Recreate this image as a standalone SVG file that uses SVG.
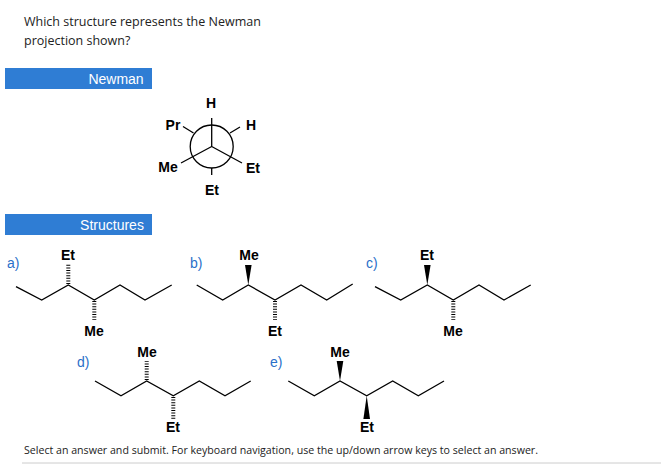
<svg xmlns="http://www.w3.org/2000/svg" width="661" height="469" viewBox="0 0 661 469">
<defs>
<style>
.q{font-family:"Open Sans","Liberation Sans",sans-serif;font-size:12.5px;fill:#222}
.bar{fill:#2f7dd4}
.bt{font-family:"Liberation Sans",Arial,sans-serif;font-size:14px;fill:#fff;text-anchor:middle}
.lb{font-family:"Liberation Sans",Arial,sans-serif;font-size:14px;font-weight:bold;fill:#000;text-anchor:middle}
.op{font-family:"Liberation Sans",Arial,sans-serif;font-size:14px;fill:#2a6fc9}
.b{fill:none;stroke:#000;stroke-width:1.3}
.h{fill:none;stroke:#000;stroke-width:4;stroke-dasharray:1 1.6}
.w{fill:#000}
</style>
</defs>
<rect width="661" height="469" fill="#fff"/>
<text class="q" x="24" y="26">Which structure represents the Newman</text>
<text class="q" x="24" y="45">projection shown?</text>
<g id="newman-bar"><rect class="bar" x="5" y="68" width="147" height="21"/><text class="bt" x="116" y="84">Newman</text></g>
<g id="structures-bar"><rect class="bar" x="5" y="214" width="147" height="21"/><text class="bt" x="112" y="230">Structures</text></g>
<g id="newman">
<circle cx="211.7" cy="146.5" r="21.5" class="b"/>
<path class="b" d="M211.7 146.5V118 M211.7 146.5L181 163 M211.7 146.5L242 163 M193.5 133L183 126.5 M230 133L240 127 M211.7 168V175"/>
<text class="lb" x="211" y="108">H</text>
<text class="lb" x="173" y="130">Pr</text>
<text class="lb" x="251" y="130">H</text>
<text class="lb" x="168" y="172">Me</text>
<text class="lb" x="253" y="173">Et</text>
<text class="lb" x="212" y="195">Et</text>
</g>
<g id="option-a">
<text class="op" x="7" y="268">a)</text>
<polyline class="b" points="16,286.7 41.7,300 68.3,285 94.3,300 120,285 145,300 171.7,285"/>
<path class="h" d="M68.3 284V264 M94.3 301V320"/>
<text class="lb" x="68" y="260">Et</text>
<text class="lb" x="94" y="336">Me</text>
</g>
<g id="option-b">
<text class="op" x="190" y="268">b)</text>
<polyline class="b" points="196.7,285 222.7,300 248.3,285 275,300 301,285 326.7,300 352.7,284"/>
<polygon class="w" points="248.3,285 245,265 251.6,265"/>
<path class="h" d="M275 301V320"/>
<text class="lb" x="249" y="260">Me</text>
<text class="lb" x="275" y="336">Et</text>
</g>
<g id="option-c">
<text class="op" x="366" y="268">c)</text>
<polyline class="b" points="375,286.7 400.7,300 427.3,285 453.3,300 479,285 504,300 530.7,285"/>
<polygon class="w" points="427.3,285 424,265 430.6,265"/>
<path class="h" d="M453.3 301V320"/>
<text class="lb" x="427" y="260">Et</text>
<text class="lb" x="453" y="336">Me</text>
</g>
<g id="option-d">
<text class="op" x="77" y="367">d)</text>
<polyline class="b" points="95,381 121,395.7 146.7,381 173.3,395.7 199.3,381 225,395.7 250.7,381"/>
<path class="h" d="M146.7 380V361 M173.3 397V419"/>
<text class="lb" x="147" y="357">Me</text>
<text class="lb" x="173" y="432">Et</text>
</g>
<g id="option-e">
<text class="op" x="270" y="367">e)</text>
<polyline class="b" points="288.3,381 314.3,395.7 340,381 366.7,395.7 392.7,381 418.3,395.7 444,381"/>
<polygon class="w" points="340,381 336.7,361 343.3,361"/>
<polygon class="w" points="366.7,395.7 363.4,419 370,419"/>
<text class="lb" x="340" y="357">Me</text>
<text class="lb" x="367" y="432">Et</text>
</g>
<text class="q" x="24" y="454" style="font-size:11px" textLength="514" lengthAdjust="spacingAndGlyphs">Select an answer and submit. For keyboard navigation, use the up/down arrow keys to select an answer.</text>
<line x1="22" y1="463" x2="661" y2="463" stroke="#ccc" stroke-width="1"/>
</svg>
